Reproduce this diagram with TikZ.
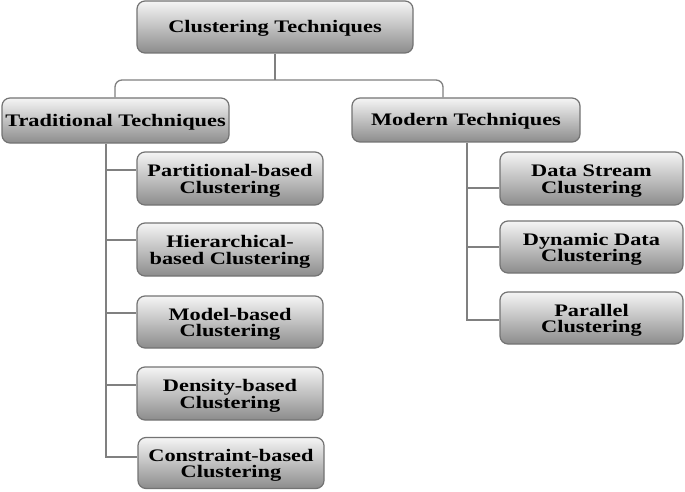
\documentclass[tikz,border=0pt]{standalone}
\usepackage{fontspec}
\setmainfont[FakeStretch=1.27]{Liberation Serif}
\begin{document}
\begin{tikzpicture}[x=1pt,y=-1pt,
  box/.style={draw=black!55, line width=1.2pt, rounded corners=8pt,
    top color=black!4, bottom color=black!45, inner sep=0pt,
    align=center, font=\fontsize{17.6}{16.7}\selectfont\bfseries},
  one/.style={box, text height=14pt, text depth=2.3pt},
  two/.style={box, text height=33.8pt, text depth=4pt},
  conn/.style={draw=black!50, line width=1.3pt}]
\useasboundingbox (0,0) rectangle (685,492);
% main boxes
\node[one, minimum width=276pt, minimum height=52pt] (root) at (275,27) {Clustering Techniques};
\node[one, minimum width=227pt, minimum height=45pt] (tt) at (115.5,120.5) {Traditional Techniques};
\node[one, minimum width=228pt, minimum height=44pt] (mt) at (466,120) {Modern Techniques};
% traditional children
\node[two, minimum width=186pt, minimum height=53pt] (pb) at (230,178.5) {Partitional-based\\Clustering};
\node[two, minimum width=186pt, minimum height=53pt] (hb) at (230,249.5) {Hierarchical-\\based Clustering};
\node[two, minimum width=186pt, minimum height=52pt] (mb) at (230,322) {Model-based\\Clustering};
\node[two, minimum width=186pt, minimum height=53pt] (db) at (230,393.5) {Density-based\\Clustering};
\node[two, minimum width=186pt, minimum height=51pt] (cb) at (231,463) {Constraint-based\\Clustering};
% modern children
\node[two, minimum width=183pt, minimum height=53pt] (ds) at (591.5,178.5) {Data Stream\\Clustering};
\node[two, minimum width=183pt, minimum height=52pt] (dd) at (591.5,247) {Dynamic Data\\Clustering};
\node[two, minimum width=183pt, minimum height=52pt] (pc) at (591.5,318) {Parallel\\Clustering};
% connector coordinates
\coordinate (bl) at (115,80);
\coordinate (br) at (443,80);
\coordinate (l1) at (106,170);
\coordinate (l2) at (106,240);
\coordinate (l3) at (106,313);
\coordinate (l4) at (106,385);
\coordinate (l5) at (106,457);
\coordinate (r1) at (467,188);
\coordinate (r2) at (467,247);
\coordinate (r3) at (467,320);
% top connectors
\draw[conn] (root.south) -- (root.south |- bl);
\draw[conn, rounded corners=7pt] (bl |- tt.north) -- (bl) -- (br) -- (br |- mt.north);
% left trunk
\draw[conn] (l1 |- tt.south) -- (l5) -- (l5 -| cb.west);
\draw[conn] (l1) -- (l1 -| pb.west);
\draw[conn] (l2) -- (l2 -| hb.west);
\draw[conn] (l3) -- (l3 -| mb.west);
\draw[conn] (l4) -- (l4 -| db.west);
% right trunk
\draw[conn] (r1 |- mt.south) -- (r3) -- (r3 -| pc.west);
\draw[conn] (r1) -- (r1 -| ds.west);
\draw[conn] (r2) -- (r2 -| dd.west);
\end{tikzpicture}
\end{document}
